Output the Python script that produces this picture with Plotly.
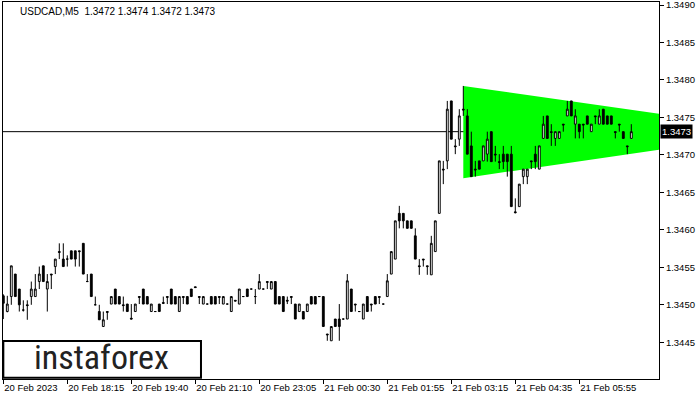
import plotly.graph_objects as go

# ---- data ----
opens = [1.34512,1.34491,1.34511,1.34541,1.34521,1.34493,1.34500,1.34511,1.34511,1.34531,
         1.34552,1.34521,1.34541,1.34551,1.34571,1.34561,1.34561,1.34572,1.34572,1.34572,
         1.34582,1.34531,1.34541,1.34500,1.34491,1.34471,1.34491,1.34501,1.34521,1.34511,
         1.34500,1.34501,1.34482,1.34491,1.34511,1.34521,1.34511,1.34491,1.34491,1.34501,
         1.34503,1.34511,1.34521,1.34511,1.34491,1.34511,1.34511,1.34521,1.34524,1.34511,
         1.34501,1.34501,1.34511,1.34511,1.34511,1.34501,1.34501,1.34491,1.34506,1.34501,
         1.34511,1.34521,1.34521,1.34511,1.34521,1.34521,1.34531,1.34521,1.34531,1.34511,
         1.34511,1.34506,1.34511,1.34501,1.34491,1.34491,1.34491,1.34511,1.34511,1.34511,
         1.34511,1.34461,1.34452,1.34481,1.34481,1.34481,1.34481,1.34521,1.34501,1.34491,
         1.34481,1.34511,1.34501,1.34511,1.34511,1.34501,1.34511,1.34541,1.34561,1.34622,
         1.34622,1.34612,1.34612,1.34592,1.34552,1.34561,1.34552,1.34540,1.34571,1.34622,
         1.34681,1.34692,1.34772,1.34712,1.34721,1.34761,1.34752,1.34712,1.34681,1.34692,
         1.34692,1.34701,1.34731,1.34701,1.34691,1.34701,1.34701,1.34701,1.34624,1.34631,
         1.34671,1.34671,1.34692,1.34701,1.34681,1.34722,1.34752,1.34731,1.34722,1.34722,
         1.34741,1.34752,1.34772,1.34741,1.34741,1.34741,1.34752,1.34731,1.34752,1.34741,
         1.34761,1.34752,1.34752,1.34731,1.34741,1.34731,1.34712,1.34722]
highs = [1.34514,1.34512,1.34552,1.34541,1.34521,1.34506,1.34506,1.34531,1.34541,1.34551,
         1.34552,1.34541,1.34541,1.34561,1.34582,1.34582,1.34566,1.34572,1.34572,1.34572,
         1.34582,1.34541,1.34541,1.34511,1.34500,1.34491,1.34491,1.34511,1.34521,1.34511,
         1.34511,1.34501,1.34501,1.34501,1.34511,1.34521,1.34511,1.34501,1.34491,1.34501,
         1.34511,1.34511,1.34521,1.34511,1.34511,1.34511,1.34511,1.34521,1.34524,1.34511,
         1.34511,1.34501,1.34511,1.34511,1.34511,1.34511,1.34501,1.34511,1.34506,1.34521,
         1.34511,1.34521,1.34521,1.34521,1.34541,1.34521,1.34531,1.34531,1.34531,1.34511,
         1.34511,1.34511,1.34511,1.34501,1.34501,1.34491,1.34501,1.34511,1.34511,1.34511,
         1.34511,1.34461,1.34471,1.34481,1.34501,1.34481,1.34541,1.34521,1.34501,1.34491,
         1.34501,1.34511,1.34501,1.34511,1.34511,1.34501,1.34541,1.34571,1.34612,1.34632,
         1.34622,1.34612,1.34612,1.34602,1.34561,1.34561,1.34552,1.34592,1.34612,1.34692,
         1.34692,1.34772,1.34772,1.34721,1.34761,1.34792,1.34761,1.34731,1.34692,1.34692,
         1.34712,1.34731,1.34731,1.34712,1.34701,1.34712,1.34701,1.34712,1.34642,1.34661,
         1.34681,1.34681,1.34692,1.34712,1.34712,1.34752,1.34752,1.34741,1.34731,1.34731,
         1.34741,1.34772,1.34772,1.34761,1.34741,1.34741,1.34752,1.34741,1.34752,1.34761,
         1.34761,1.34752,1.34752,1.34731,1.34741,1.34731,1.34712,1.34741]
lows = [1.34481,1.34490,1.34500,1.34511,1.34491,1.34491,1.34480,1.34500,1.34511,1.34521,
        1.34531,1.34491,1.34521,1.34541,1.34561,1.34551,1.34551,1.34561,1.34551,1.34551,
        1.34541,1.34531,1.34511,1.34500,1.34480,1.34471,1.34480,1.34501,1.34501,1.34501,
        1.34491,1.34491,1.34481,1.34491,1.34501,1.34501,1.34501,1.34491,1.34491,1.34491,
        1.34501,1.34501,1.34501,1.34501,1.34491,1.34501,1.34501,1.34511,1.34523,1.34501,
        1.34501,1.34501,1.34501,1.34501,1.34501,1.34501,1.34501,1.34491,1.34505,1.34501,
        1.34511,1.34511,1.34521,1.34501,1.34521,1.34521,1.34521,1.34521,1.34501,1.34501,
        1.34491,1.34501,1.34501,1.34481,1.34491,1.34481,1.34491,1.34501,1.34501,1.34511,
        1.34471,1.34452,1.34452,1.34471,1.34452,1.34481,1.34481,1.34491,1.34491,1.34491,
        1.34481,1.34491,1.34491,1.34501,1.34501,1.34501,1.34511,1.34541,1.34561,1.34602,
        1.34602,1.34602,1.34602,1.34561,1.34540,1.34551,1.34540,1.34540,1.34571,1.34622,
        1.34661,1.34681,1.34721,1.34701,1.34712,1.34752,1.34701,1.34671,1.34671,1.34681,
        1.34692,1.34691,1.34691,1.34691,1.34681,1.34681,1.34671,1.34631,1.34622,1.34631,
        1.34661,1.34661,1.34681,1.34681,1.34681,1.34722,1.34722,1.34712,1.34712,1.34722,
        1.34731,1.34752,1.34752,1.34722,1.34722,1.34722,1.34741,1.34731,1.34741,1.34741,
        1.34741,1.34741,1.34741,1.34722,1.34731,1.34722,1.34701,1.34722]
closes = [1.34502,1.34501,1.34552,1.34511,1.34500,1.34493,1.34499,1.34521,1.34521,1.34541,
          1.34531,1.34531,1.34540,1.34561,1.34570,1.34551,1.34561,1.34561,1.34561,1.34571,
          1.34541,1.34531,1.34511,1.34500,1.34480,1.34480,1.34490,1.34511,1.34501,1.34501,
          1.34499,1.34491,1.34481,1.34501,1.34510,1.34501,1.34501,1.34501,1.34491,1.34491,
          1.34502,1.34510,1.34501,1.34501,1.34511,1.34510,1.34501,1.34511,1.34523,1.34510,
          1.34511,1.34501,1.34501,1.34501,1.34510,1.34511,1.34501,1.34511,1.34505,1.34521,
          1.34511,1.34511,1.34521,1.34511,1.34531,1.34521,1.34530,1.34531,1.34501,1.34501,
          1.34491,1.34505,1.34510,1.34481,1.34501,1.34481,1.34501,1.34501,1.34501,1.34511,
          1.34471,1.34460,1.34471,1.34471,1.34471,1.34481,1.34532,1.34491,1.34500,1.34491,
          1.34501,1.34491,1.34500,1.34501,1.34510,1.34501,1.34532,1.34571,1.34612,1.34612,
          1.34612,1.34602,1.34602,1.34561,1.34551,1.34560,1.34551,1.34582,1.34612,1.34692,
          1.34680,1.34761,1.34721,1.34711,1.34752,1.34760,1.34701,1.34671,1.34680,1.34681,
          1.34712,1.34721,1.34691,1.34700,1.34690,1.34691,1.34691,1.34631,1.34623,1.34661,
          1.34681,1.34681,1.34691,1.34691,1.34712,1.34741,1.34722,1.34730,1.34731,1.34731,
          1.34740,1.34761,1.34752,1.34752,1.34731,1.34740,1.34741,1.34741,1.34751,1.34752,
          1.34741,1.34741,1.34741,1.34730,1.34740,1.34722,1.34711,1.34731]

tick_pos = [0, 16, 32, 48, 64, 80, 96, 112, 128, 144]
tick_labels = ["20 Feb 2023", "20 Feb 18:15", "20 Feb 19:40", "20 Feb 21:10",
               "20 Feb 23:05", "21 Feb 00:30", "21 Feb 01:55", "21 Feb 03:15",
               "21 Feb 04:35", "21 Feb 05:55"]
price_ticks = [1.3445, 1.3450, 1.3455, 1.3460, 1.3465, 1.3470, 1.3475, 1.3480, 1.3485, 1.3490]
price_tick_text = ["1.3445", "1.3450", "1.3455", "1.3460", "1.3465",
                   "1.3470", "1.3475", "1.3480", "1.3485", "1.3490"]

# symmetrical triangle (pattern) corners
tri_x = [115, 164]
tri_upper = [1.34792, 1.34755]
tri_lower = [1.34669, 1.34707]

symbol = "USDCAD,M5"
bars = list(range(len(opens)))

FONT = "Liberation Sans, Arial, sans-serif"

fig = go.Figure()
fig.add_trace(go.Candlestick(
    x=bars, open=opens, high=highs, low=lows, close=closes,
    increasing=dict(line=dict(color="black", width=1), fillcolor="white"),
    decreasing=dict(line=dict(color="black", width=1), fillcolor="black"),
    whiskerwidth=0, hoverinfo="skip", showlegend=False,
))

tri_path = (f"M {tri_x[0]},{tri_upper[0]} L {tri_x[1]},{tri_upper[1]} "
            f"L {tri_x[1]},{tri_lower[1]} L {tri_x[0]},{tri_lower[0]} Z")

last = closes[-1]
shapes = [
    dict(type="path", path=tri_path, xref="x", yref="y", layer="below",
         fillcolor="#00FF00", line=dict(width=0)),
    dict(type="line", xref="paper", yref="y", x0=0, x1=1, y0=last, y1=last,
         layer="below", line=dict(color="black", width=1)),
    dict(type="rect", xref="paper", yref="paper", x0=0.0005, x1=0.3018,
         y0=0.0034, y1=0.1008, layer="above", fillcolor="white",
         line=dict(color="black", width=2)),
]

header = (f"{symbol}\u00a0\u00a0{opens[-1]:.4f} {highs[-1]:.4f} "
          f"{lows[-1]:.4f} {closes[-1]:.4f}")

annotations = [
    dict(text=header, xref="paper", yref="paper", x=0.0229, y=0.976,
         xanchor="left", yanchor="middle", showarrow=False,
         font=dict(family=FONT, size=10, color="black")),
    dict(text=f"{last:.4f}", xref="paper", yref="y", x=1, y=last,
         xanchor="left", yanchor="middle", xshift=1, showarrow=False,
         bgcolor="black", borderpad=1,
         font=dict(family=FONT, size=9.5, color="white")),
    dict(text="instaforex", xref="paper", yref="paper", x=0.1494, y=0.058,
         xanchor="center", yanchor="middle", showarrow=False,
         font=dict(family="Liberation Sans Narrow, Roboto Condensed, Liberation Sans",
                   size=34, color="#222222")),
]

fig.update_layout(
    width=700, height=400,
    margin=dict(l=3, r=41, t=2, b=21, autoexpand=False),
    paper_bgcolor="white", plot_bgcolor="white",
    boxgap=0.35,
    shapes=shapes, annotations=annotations,
    showlegend=False,
    xaxis=dict(
        range=[-0.075, 163.925], rangeslider=dict(visible=False),
        automargin=False,
        showgrid=False, zeroline=False,
        showline=True, linecolor="black", linewidth=1, mirror=True,
        ticks="outside", ticklen=4, tickcolor="black",
        tickvals=tick_pos, ticktext=tick_labels, tickangle=0,
        ticklabelposition="outside right", ticklabeloverflow="allow",
        tickfont=dict(family=FONT, size=9.5, color="black"),
    ),
    yaxis=dict(
        range=[1.34401, 1.34904], side="right",
        automargin=False,
        showgrid=False, zeroline=False,
        showline=True, linecolor="black", linewidth=1, mirror=True,
        ticks="outside", ticklen=4, tickcolor="black",
        tickvals=price_ticks, ticktext=price_tick_text,
        ticklabeloverflow="allow",
        tickfont=dict(family=FONT, size=9.5, color="black"),
    ),
)

fig.write_html("out.html",
               config={"displayModeBar": False},
               post_script="document.body.style.margin='0px';"
                           "document.body.style.overflow='hidden';")
